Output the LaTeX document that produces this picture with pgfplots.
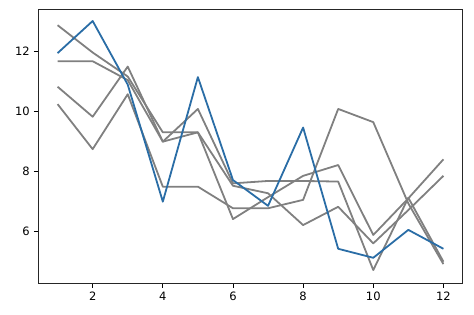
\documentclass[border=0pt]{standalone}
\usepackage{fontspec}
\setmainfont{DejaVu Sans}
\usepackage{pgfplots}
\pgfplotsset{compat=1.18}
\definecolor{mblue}{HTML}{2A6DA6}
\definecolor{mgray}{HTML}{808080}
\begin{document}
\begin{tikzpicture}[x=1pt,y=1pt]
\begin{axis}[
  scale only axis,
  width=424.4pt, height=274.3pt,
  xmin=0.45, xmax=12.55,
  ymin=4.28, ymax=13.42,
  xtick={2,4,6,8,10,12},
  ytick={6,8,10,12},
  tick pos=left,
  tick align=outside,
  major tick length=4.5pt,
  tick style={black, line width=0.9pt},
  axis line style={black!85, line width=0.9pt},
  /pgf/number format/assume math mode=true,
  ticklabel style={font=\fontsize{11.5}{13}\selectfont},
  xticklabel style={yshift=-0.5pt},
  yticklabel style={xshift=-0.5pt},
  every axis plot/.append style={line width=1.8pt, line join=round},
]
\addplot[mgray] coordinates {(1,12.88) (2,11.97) (3,11.17) (4,9.31) (5,9.31) (6,7.53) (7,7.28) (8,6.22) (9,6.83) (10,5.61) (11,6.72) (12,7.86)};
\addplot[mgray] coordinates {(1,11.68) (2,11.68) (3,11.05) (4,9.0) (5,9.31) (6,6.42) (7,7.15) (8,7.86) (9,8.22) (10,5.89) (11,7.11) (12,8.41)};
\addplot[mgray] coordinates {(1,10.83) (2,9.83) (3,11.5) (4,9.0) (5,10.09) (6,7.61) (7,7.69) (8,7.69) (9,7.67) (10,4.72) (11,7.13) (12,5.0)};
\addplot[mgray] coordinates {(1,10.25) (2,8.75) (3,10.58) (4,7.5) (5,7.5) (6,6.78) (7,6.78) (8,7.06) (9,10.09) (10,9.65) (11,6.94) (12,4.92)};
\addplot[mblue] coordinates {(1,11.95) (2,13.02) (3,10.9) (4,7.0) (5,11.15) (6,7.72) (7,6.86) (8,9.47) (9,5.43) (10,5.13) (11,6.06) (12,5.43)};
\end{axis}
\path ([xshift=-38.3pt,yshift=-31.7pt]current axis.south west) rectangle ([xshift=11.3pt,yshift=9pt]current axis.north east);
\end{tikzpicture}
\end{document}
